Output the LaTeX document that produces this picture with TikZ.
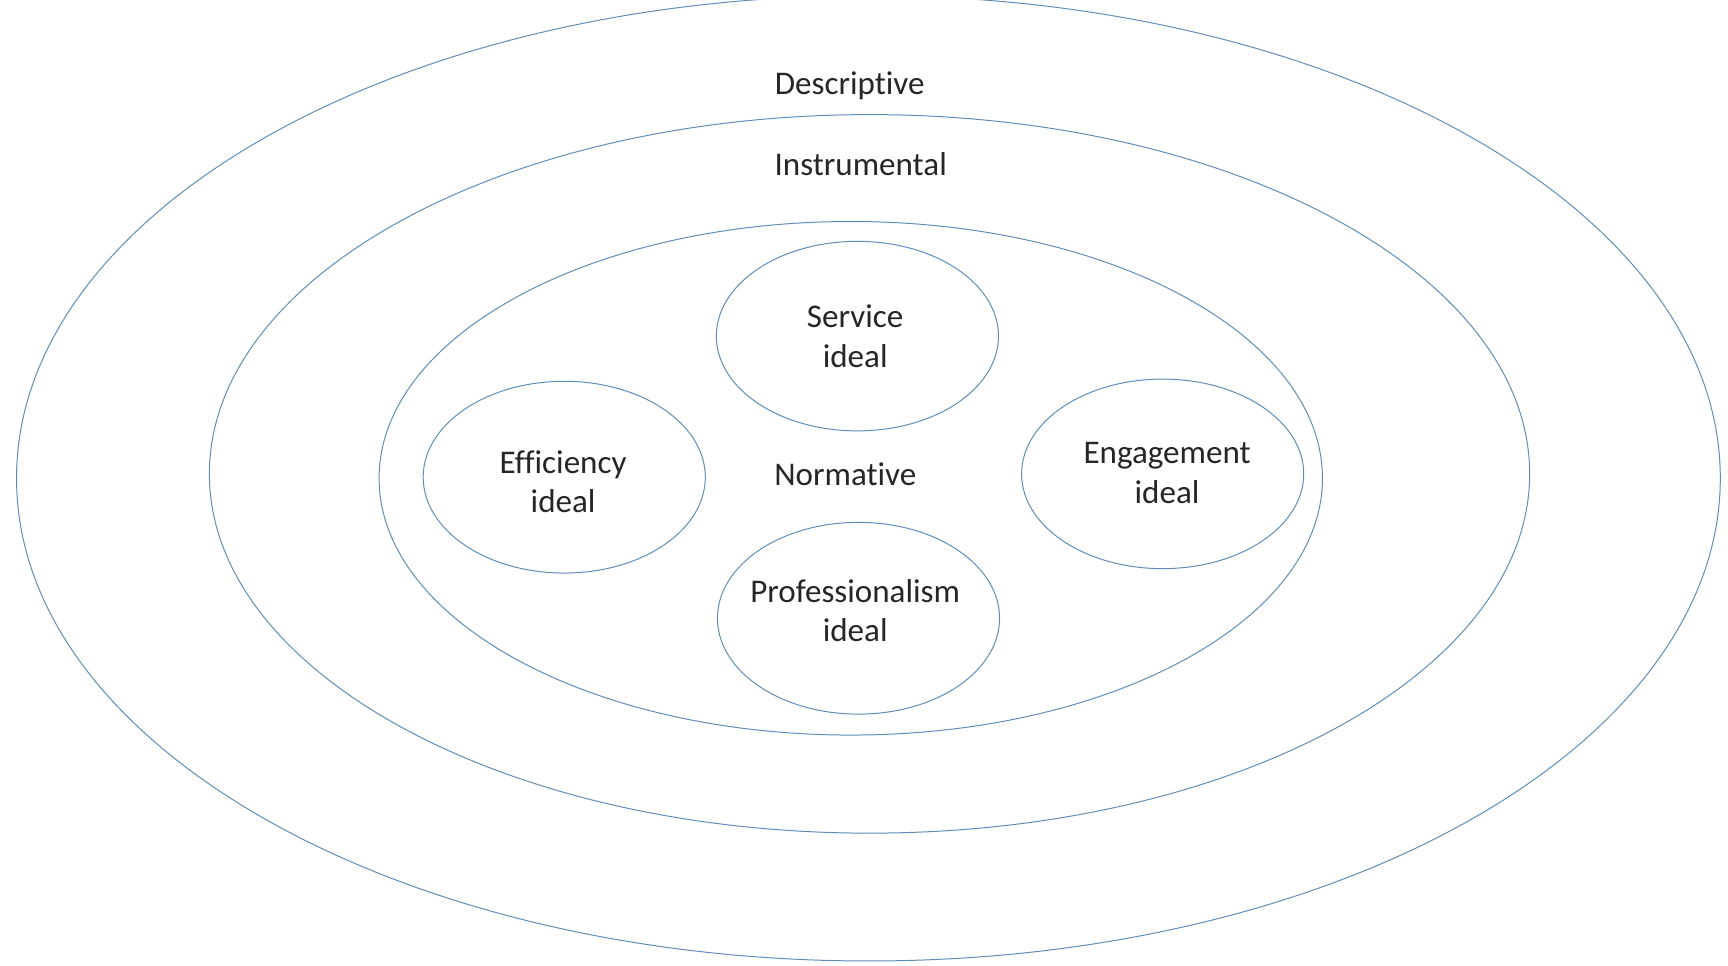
\documentclass[tikz,border=0pt]{standalone}
\usepackage{fontspec}
\setmainfont{Carlito}[Ligatures={NoCommon}]
\definecolor{ring}{RGB}{95,140,185}
\begin{document}
\begin{tikzpicture}[x=1pt,y=1pt,
  ring/.style={draw=ring,line width=0.9pt},
  lbl/.style={font=\fontsize{30}{36}\selectfont,align=center,text=black!85}]
\useasboundingbox (0,0) rectangle (1568,876);
\begin{scope}[yscale=-1,yshift=-876pt]
\draw[ring] (788,434) ellipse [x radius=773,y radius=438];
\draw[ring] (789,430) ellipse [x radius=599,y radius=326];
\draw[ring] (772,434) ellipse [x radius=428,y radius=233];
\draw[ring] (778,305) ellipse [x radius=128,y radius=86];
\draw[ring] (512,433) ellipse [x radius=128,y radius=87];
\draw[ring] (1055,430) ellipse [x radius=128,y radius=86];
\draw[ring] (779,561) ellipse [x radius=128,y radius=87];
\node[lbl] (d) at (771,78) {Descriptive};
\node[lbl] (i) at (781,149) {Instrumental};
\node[lbl] (n) at (767,430) {Normative};
\node[lbl] (s) at (776,305) {Service\\ideal};
\node[lbl] (e) at (511,437) {Efficiency\\ideal};
\node[lbl] (g) at (1059,429) {Engagement\\ideal};
\node[lbl] (p) at (776,554) {Professionalism\\ideal};
\end{scope}
\end{tikzpicture}
\end{document}
